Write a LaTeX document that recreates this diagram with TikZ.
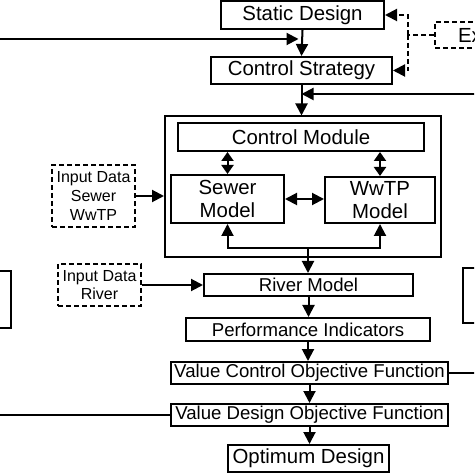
\documentclass[tikz,border=0pt]{standalone}
\usepackage{fontspec}
\setsansfont{Liberation Sans}
\usetikzlibrary{arrows.meta}

\begin{document}
\begin{tikzpicture}[x=0.5pt,y=-0.5pt,>={Triangle[length=6pt,width=6pt]},line width=1pt,
  block node/.style={rectangle,draw,inner sep=0pt,font=\sffamily\fontsize{10.2}{11.5}\selectfont},
  indicator node/.style={block node,font=\sffamily\fontsize{9.3}{11}\selectfont},
  input node/.style={rectangle,draw,dash pattern=on 2.5pt off 1.5pt,inner sep=0pt,align=center,
    font=\sffamily\fontsize{8}{9.3}\selectfont},
  short arrow/.style={{Triangle[length=4.5pt,width=6pt]}-{Triangle[length=4.5pt,width=6pt]}}]
  \useasboundingbox (0,0) rectangle (474,474);
  \clip (0,0) rectangle (474,474);

  \node[block node,minimum width=81.5pt,minimum height=14pt] (static) at (302.5,15) {Static Design};
  \node[block node,minimum width=90.5pt,minimum height=13.5pt] (strategy) at (301.5,70.5) {Control Strategy};
  \node[input node,anchor=west,inner xsep=11.5pt,minimum height=13pt,
    font=\sffamily\fontsize{10.2}{12}\selectfont] (extra) at (434,35) {Ex};
  \node[block node,minimum width=138pt,minimum height=70.5pt] (bigbox) at (303,187) {};
  \node[block node,minimum width=123pt,minimum height=14pt] (module) at (301,137) {Control Module};
  \node[block node,align=center,minimum width=56.5pt,minimum height=24pt] (sewer) at (227.5,199) {Sewer\\Model};
  \node[block node,align=center,minimum width=55pt,minimum height=23pt] (wwtp) at (380,200) {WwTP\\Model};
  \node[input node,minimum width=41.5pt,minimum height=31pt] (insewer) at (93.5,196) {Input Data\\Sewer\\WwTP};
  \node[input node,minimum width=41.5pt,minimum height=21pt] (inriver) at (99.5,285) {Input Data\\River};
  \node[indicator node,minimum width=104.5pt,minimum height=11pt] (river) at (308.5,285) {River Model};
  \node[indicator node,minimum width=122pt,minimum height=11.5pt] (perf) at (308,329.5) {Performance Indicators};
  \node[indicator node,minimum width=138.5pt,minimum height=11pt] (vcof) at (309.5,373) {Value Control Objective Function};
  \node[indicator node,minimum width=138.5pt,minimum height=11pt] (vdof) at (309.5,415) {Value Design Objective Function};
  \node[block node,minimum width=80.5pt,minimum height=13.5pt] (optimum) at (308.5,458.5) {Optimum Design};
  \node[block node,minimum width=15.5pt,minimum height=28.5pt] (leftbox) at (-5,299.5) {};
  \node[block node,minimum width=17pt,minimum height=27.5pt] (rightbox) at (480,295.5) {};

  \coordinate (fromleft) at (-10,39);
  \coordinate (fromright) at (490,94);
  \coordinate (ejoin) at (408,35);
  \coordinate (merge) at (308,248);
  \coordinate (toright) at (490,373);
  \coordinate (toleft) at (-10,415);

  \draw[->] (fromleft) -- ([xshift=-2pt]static.south |- fromleft);
  \draw[->] (static.south) -- (strategy.north);
  \draw[dash pattern=on 2.5pt off 1.5pt] (extra.west) -- (ejoin);
  \draw[->,dash pattern=on 2.5pt off 1.5pt] (ejoin) |- (static.east);
  \draw[->,dash pattern=on 2.5pt off 1.5pt] (ejoin) |- (strategy.east);
  \draw[->] (fromright) -- (strategy.south |- fromright);
  \draw[->] (strategy.south) -- (strategy.south |- bigbox.north);
  \draw[short arrow] (sewer.north |- module.south) -- (sewer.north);
  \draw[short arrow] (wwtp.north |- module.south) -- (wwtp.north);
  \draw[<->] (sewer.east) -- (sewer.east -| wwtp.west);
  \draw[->] (merge) -| (sewer.south);
  \draw[->] (merge) -| (wwtp.south);
  \draw[->] (merge) -- (merge |- river.north);
  \draw[->] (insewer.east) -- (insewer.east -| bigbox.west);
  \draw[->] (inriver.east) -- (river.west);
  \draw[->] (river.south) -- (river.south |- perf.north);
  \draw[->] (perf.south) -- (perf.south |- vcof.north);
  \draw[->] (vcof.south) -- (vdof.north);
  \draw[->] (vdof.south) -- (vdof.south |- optimum.north);
  \draw (vcof.east) -- (toright);
  \draw (vdof.west) -- (toleft);
\end{tikzpicture}
\end{document}
